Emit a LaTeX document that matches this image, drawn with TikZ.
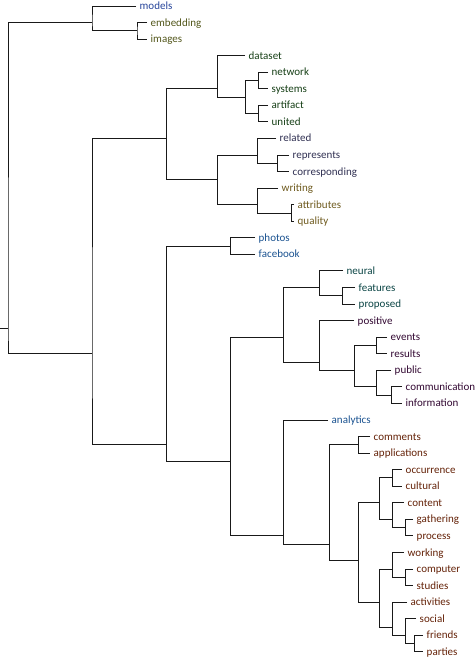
\documentclass[tikz,border=0pt]{standalone}
\usepackage{fontspec}
\setmainfont{Carlito}
\definecolor{cblue}{HTML}{26449A}
\definecolor{cblueb}{HTML}{1A5290}
\definecolor{colive}{HTML}{52561A}
\definecolor{cgreen}{HTML}{163F16}
\definecolor{cnavy}{HTML}{303052}
\definecolor{cgold}{HTML}{6E5A1E}
\definecolor{cteal}{HTML}{0A4444}
\definecolor{cpurple}{HTML}{320832}
\definecolor{cbrown}{HTML}{642208}
\begin{document}
\begin{tikzpicture}[x=1pt, y=-16.56pt,
		leaf/.style = {anchor=west, inner xsep=3.5pt, inner ysep=0pt, text height=8pt, text depth=1pt, font=\fontsize{11}{13}\selectfont},
		link/.style = {draw=black!90, line width=1pt}]
			\useasboundingbox (0,-0.3623) rectangle (474,39.43);
			
			\node[leaf, text=cblue] (models) at (136,0) {models};
			\node[leaf, text=colive] (embedding) at (147,1) {embedding};
			\node[leaf, text=colive] (images) at (147,2) {images};
			\node[leaf, text=cgreen] (dataset) at (245,3) {dataset};
			\node[leaf, text=cgreen] (network) at (268,4) {network};
			\node[leaf, text=cgreen] (systems) at (268,5) {systems};
			\node[leaf, text=cgreen] (artifact) at (268,6) {artifact};
			\node[leaf, text=cgreen] (united) at (268,7) {united};
			\node[leaf, text=cnavy] (related) at (276,8) {related};
			\node[leaf, text=cnavy] (represents) at (289,9) {represents};
			\node[leaf, text=cnavy] (corresponding) at (289,10) {corresponding};
			\node[leaf, text=cgold] (writing) at (278,11) {writing};
			\node[leaf, text=cgold] (attributes) at (294,12) {attributes};
			\node[leaf, text=cgold] (quality) at (294,13) {quality};
			\node[leaf, text=cblueb] (photos) at (255,14) {photos};
			\node[leaf, text=cblueb] (facebook) at (255,15) {facebook};
			\node[leaf, text=cteal] (neural) at (343,16) {neural};
			\node[leaf, text=cteal] (features) at (355,17) {features};
			\node[leaf, text=cteal] (proposed) at (355,18) {proposed};
			\node[leaf, text=cpurple] (positive) at (354,19) {positive};
			\node[leaf, text=cpurple] (events) at (387,20) {events};
			\node[leaf, text=cpurple] (results) at (387,21) {results};
			\node[leaf, text=cpurple] (public) at (391,22) {public};
			\node[leaf, text=cpurple] (communication) at (402,23) {communication};
			\node[leaf, text=cpurple] (information) at (402,24) {information};
			\node[leaf, text=cblueb] (analytics) at (328,25) {analytics};
			\node[leaf, text=cbrown] (comments) at (370,26) {comments};
			\node[leaf, text=cbrown] (applications) at (370,27) {applications};
			\node[leaf, text=cbrown] (occurrence) at (402,28) {occurrence};
			\node[leaf, text=cbrown] (cultural) at (402,29) {cultural};
			\node[leaf, text=cbrown] (content) at (404,30) {content};
			\node[leaf, text=cbrown] (gathering) at (413,31) {gathering};
			\node[leaf, text=cbrown] (process) at (413,32) {process};
			\node[leaf, text=cbrown] (working) at (404,33) {working};
			\node[leaf, text=cbrown] (computer) at (413,34) {computer};
			\node[leaf, text=cbrown] (studies) at (413,35) {studies};
			\node[leaf, text=cbrown] (activities) at (407,36) {activities};
			\node[leaf, text=cbrown] (social) at (416,37) {social};
			\node[leaf, text=cbrown] (friends) at (423,38) {friends};
			\node[leaf, text=cbrown] (parties) at (423,39) {parties};
			
			\coordinate (embimg) at (137,1.5);
			\coordinate (grpa) at (92,1);
			\coordinate (netsys) at (258,4.5);
			\coordinate (artuni) at (258,6.5);
			\coordinate (netuni) at (245,5.5);
			\coordinate (grpdata) at (217,5);
			\coordinate (repcor) at (277,9.5);
			\coordinate (relcor) at (257,9);
			\coordinate (attqua) at (291,12.5);
			\coordinate (wriqua) at (257,12);
			\coordinate (grprel) at (217,10.5);
			\coordinate (grpb1) at (166,8);
			\coordinate (phofac) at (230,14.5);
			\coordinate (feapro) at (342,17.5);
			\coordinate (neupro) at (319,17);
			\coordinate (evres) at (376,20.5);
			\coordinate (cominf) at (391,23.5);
			\coordinate (pubinf) at (376,23);
			\coordinate (evinf) at (354,22);
			\coordinate (posinf) at (319,21.5);
			\coordinate (grpc1) at (283,20);
			\coordinate (comapp) at (358,26.5);
			\coordinate (occcul) at (392,28.5);
			\coordinate (gatpro) at (405,31.5);
			\coordinate (conpro) at (392,31);
			\coordinate (occpro) at (379,30);
			\coordinate (comstu) at (405,34.5);
			\coordinate (worstu) at (392,34);
			\coordinate (fripar) at (414,38.5);
			\coordinate (socpar) at (405,38);
			\coordinate (actpar) at (392,37.5);
			\coordinate (worpar) at (379,36);
			\coordinate (occpar) at (358,33.5);
			\coordinate (compar) at (329,32.5);
			\coordinate (grpc2) at (283,32);
			\coordinate (grpc) at (230,27.5);
			\coordinate (grpb2) at (166,26.5);
			\coordinate (grpb) at (92,21);
			\coordinate (root) at (8,19.5);
			\coordinate (stub) at (0,19.5);
			
			\draw[link] (embedding.west) -| (embimg) |- (images.west);
			\draw[link] (models.west) -| (grpa) |- (embimg);
			\draw[link] (network.west) -| (netsys) |- (systems.west);
			\draw[link] (artifact.west) -| (artuni) |- (united.west);
			\draw[link] (netsys) -| (netuni) |- (artuni);
			\draw[link] (dataset.west) -| (grpdata) |- (netuni);
			\draw[link] (represents.west) -| (repcor) |- (corresponding.west);
			\draw[link] (related.west) -| (relcor) |- (repcor);
			\draw[link] (attributes.west) -| (attqua) |- (quality.west);
			\draw[link] (writing.west) -| (wriqua) |- (attqua);
			\draw[link] (relcor) -| (grprel) |- (wriqua);
			\draw[link] (grpdata) -| (grpb1) |- (grprel);
			
			\draw[link] (photos.west) -| (phofac) |- (facebook.west);
			\draw[link] (features.west) -| (feapro) |- (proposed.west);
			\draw[link] (neural.west) -| (neupro) |- (feapro);
			\draw[link] (events.west) -| (evres) |- (results.west);
			\draw[link] (communication.west) -| (cominf) |- (information.west);
			\draw[link] (public.west) -| (pubinf) |- (cominf);
			\draw[link] (evres) -| (evinf) |- (pubinf);
			\draw[link] (positive.west) -| (posinf) |- (evinf);
			\draw[link] (neupro) -| (grpc1) |- (posinf);
			
			\draw[link] (comments.west) -| (comapp) |- (applications.west);
			\draw[link] (occurrence.west) -| (occcul) |- (cultural.west);
			\draw[link] (gathering.west) -| (gatpro) |- (process.west);
			\draw[link] (content.west) -| (conpro) |- (gatpro);
			\draw[link] (occcul) -| (occpro) |- (conpro);
			\draw[link] (computer.west) -| (comstu) |- (studies.west);
			\draw[link] (working.west) -| (worstu) |- (comstu);
			\draw[link] (friends.west) -| (fripar) |- (parties.west);
			\draw[link] (social.west) -| (socpar) |- (fripar);
			\draw[link] (activities.west) -| (actpar) |- (socpar);
			\draw[link] (worstu) -| (worpar) |- (actpar);
			\draw[link] (occpro) -| (occpar) |- (worpar);
			\draw[link] (comapp) -| (compar) |- (occpar);
			\draw[link] (analytics.west) -| (grpc2) |- (compar);
			
			\draw[link] (grpc1) -| (grpc) |- (grpc2);
			\draw[link] (phofac) -| (grpb2) |- (grpc);
			\draw[link] (grpb1) -| (grpb) |- (grpb2);
			\draw[link] (grpa) -| (root) |- (grpb);
			\draw[link] (stub) -- (root);
		\end{tikzpicture}
\end{document}
